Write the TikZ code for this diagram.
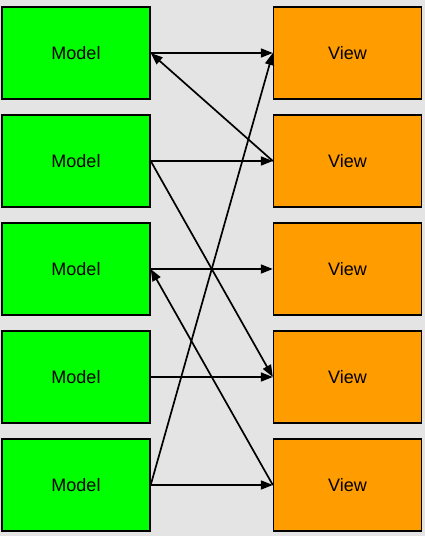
\documentclass[tikz,border=0pt]{standalone}
\usepackage{fontspec}
\setmainfont{Liberation Sans}
\usetikzlibrary{arrows.meta}
\definecolor{bg}{HTML}{E4E4E4}
\definecolor{mgreen}{HTML}{00FF00}
\definecolor{vorange}{HTML}{FF9C00}
\begin{document}
\begin{tikzpicture}[x=1pt,y=-1pt,
  box/.style={draw=black,line width=1.4pt,minimum width=148pt,minimum height=92pt,inner sep=0pt,font=\fontsize{18}{21}\selectfont},
  model/.style={box,fill=mgreen},
  view/.style={box,fill=vorange},
  conn/.style={line width=1.7pt,-{Triangle[length=12pt,width=9pt]}}]
\fill[bg] (0,0) rectangle (425,536);
\useasboundingbox (0,0) rectangle (425,536);
\foreach \i/\y in {1/53,2/161,3/269,4/377,5/485}{
  \node[model] (m\i) at (76,\y) {Model};
  \node[view] (v\i) at (347.5,\y) {View};
}
\draw[conn] (m1.east) -- (v1.west);
\draw[conn] (v2.west) -- (m1.east);
\draw[conn] (m5.east) -- (v1.west);
\draw[conn] (m2.east) -- (v2.west);
\draw[conn] (m2.east) -- (v4.west);
\draw[conn] (m3.east) -- (v3.west);
\draw[conn] (v5.west) -- (m3.east);
\draw[conn] (m4.east) -- (v4.west);
\draw[conn] (m5.east) -- (v5.west);
\end{tikzpicture}
\end{document}
